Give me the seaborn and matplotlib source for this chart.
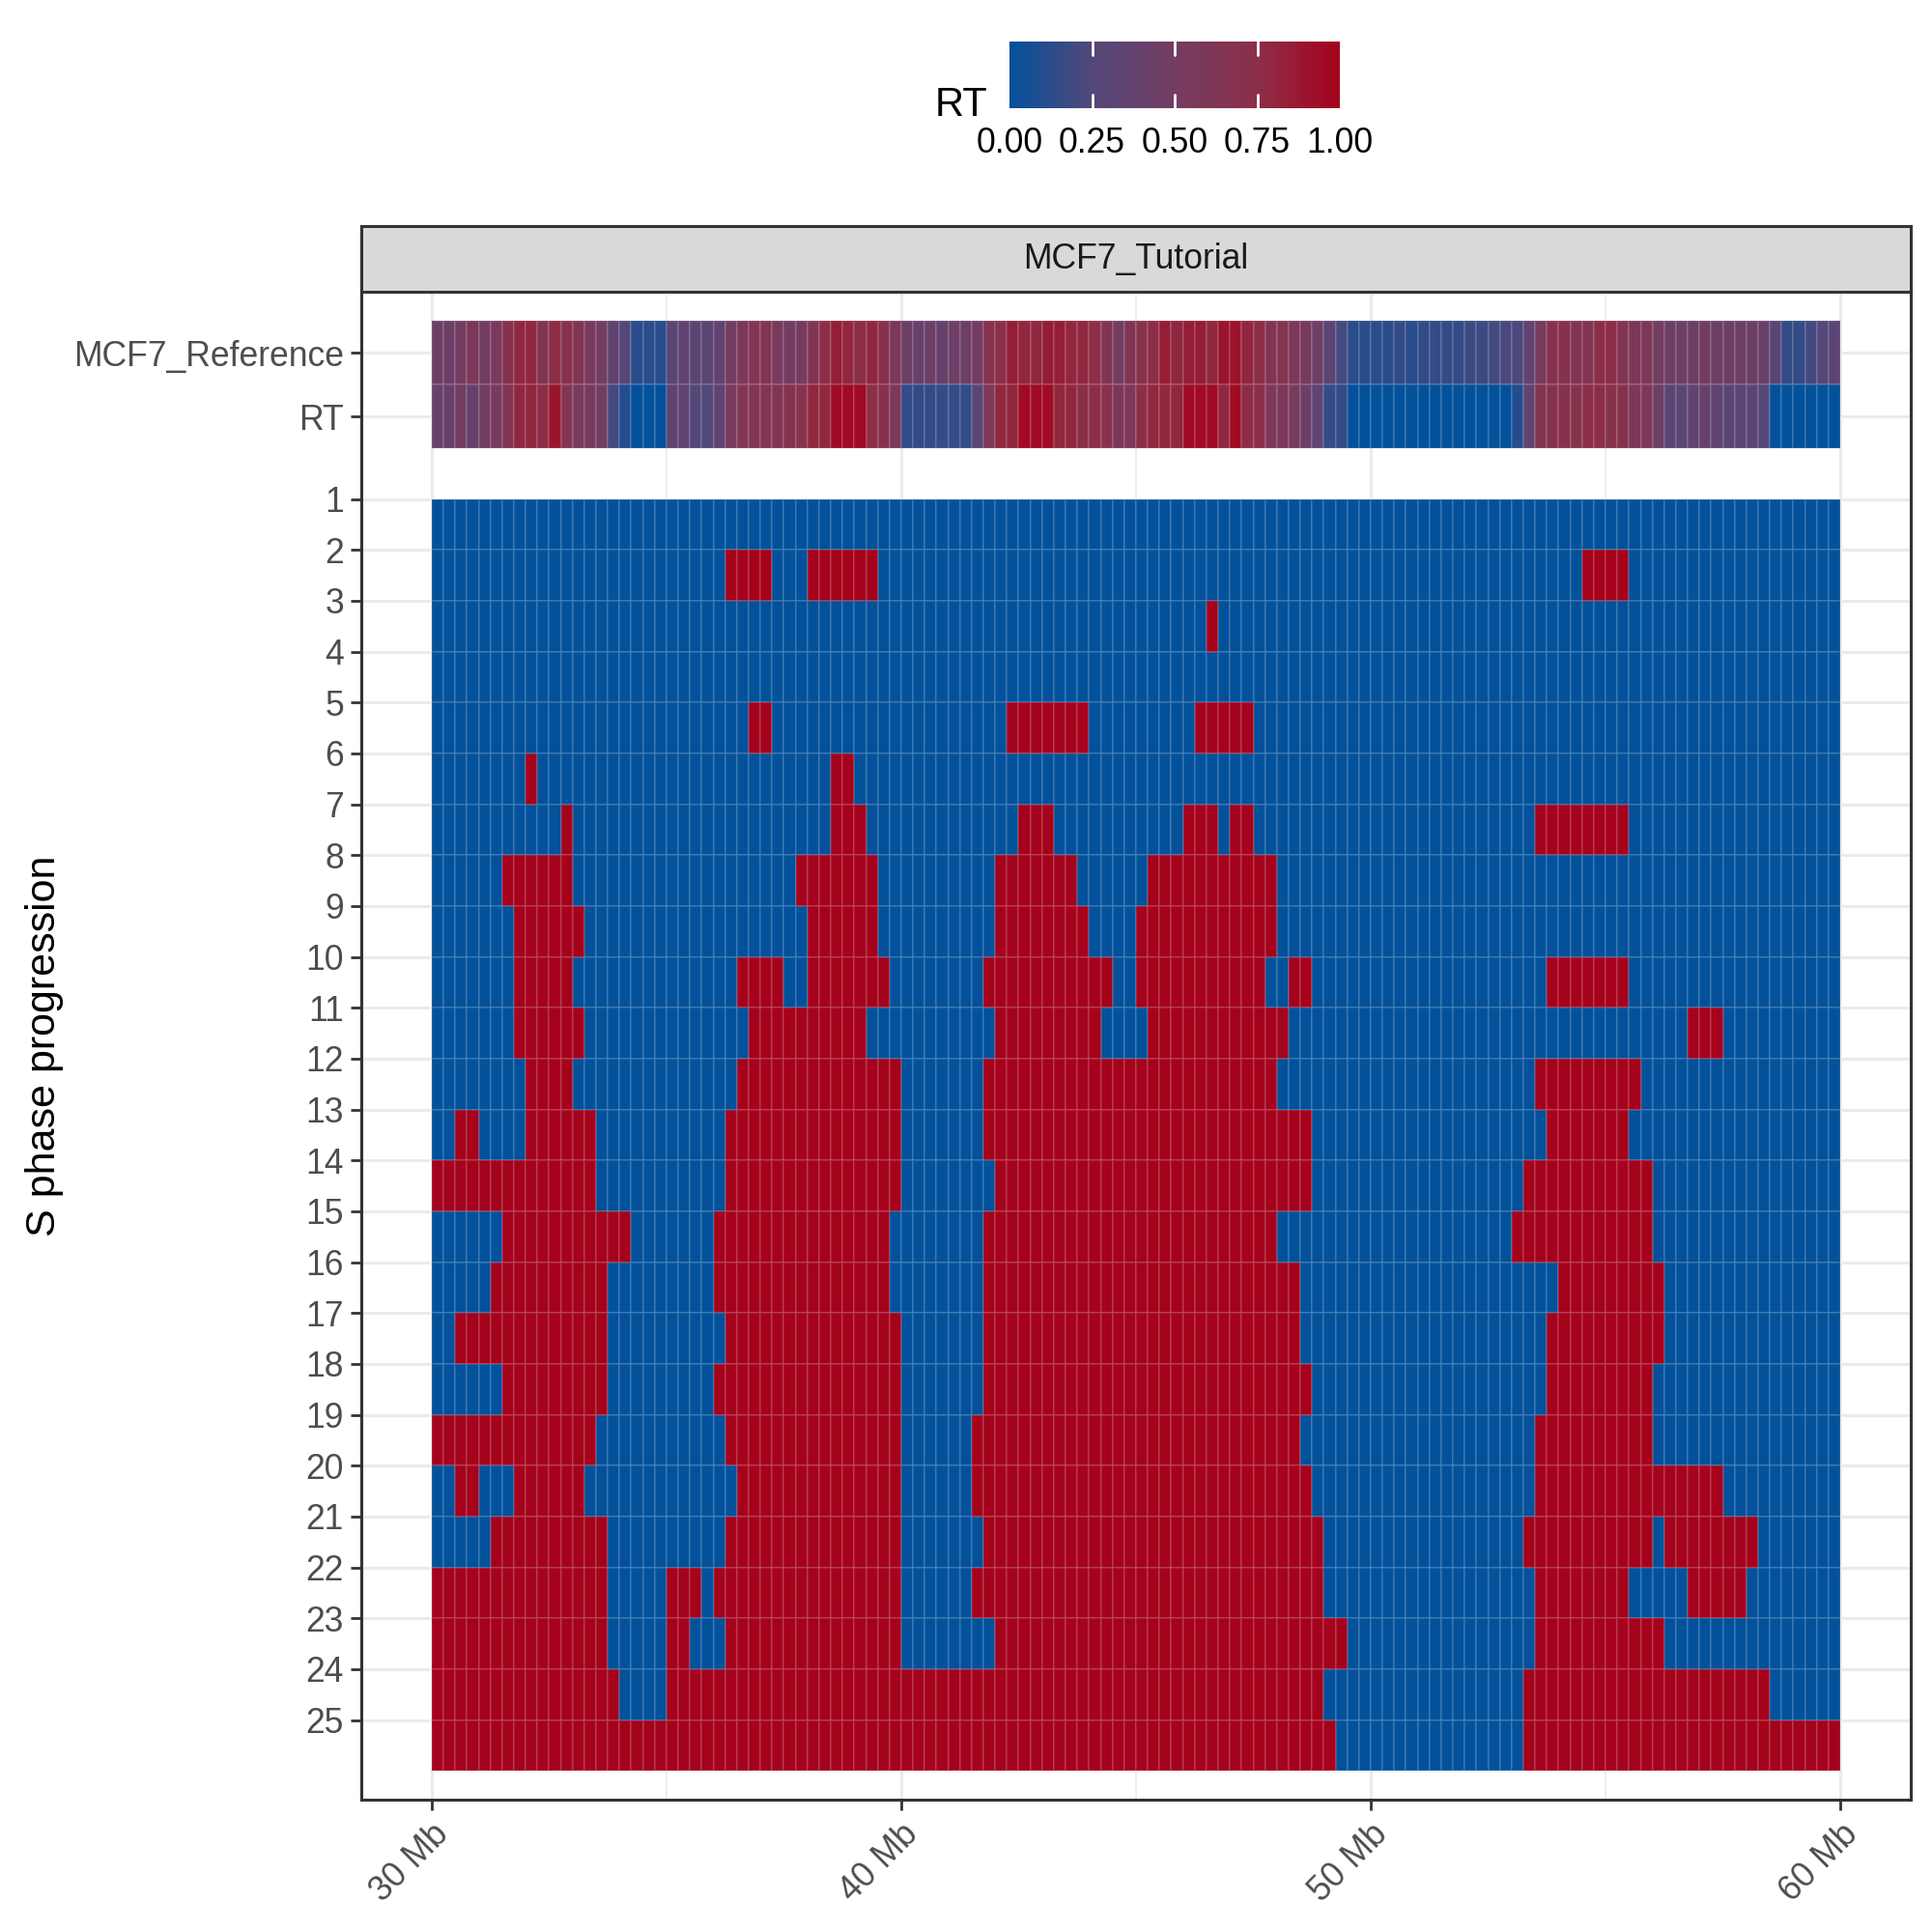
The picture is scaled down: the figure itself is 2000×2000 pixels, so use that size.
import numpy as np
import matplotlib
matplotlib.use("Agg")
import matplotlib.pyplot as plt
import matplotlib.ticker as mticker
import seaborn as sns

# ─────────────────────────────────────────────
# Data
# 120 bins of 0.25 Mb between 30 and 60 Mb
# ─────────────────────────────────────────────
REGION_MB = (30, 60)

X_TICKS = [30, 40, 50, 60]
X_TICKLABELS = ["30 Mb", "40 Mb", "50 Mb", "60 Mb"]
X_MINOR = [35, 45, 55]
TRACK_LABELS = ["MCF7_Reference", "RT"]
FRACTION_LABELS = [str(i) for i in range(1, 26)]
RT_TICKS = [0.0, 0.25, 0.50, 0.75, 1.0]
RT_TICKLABELS = ["0.00", "0.25", "0.50", "0.75", "1.00"]

REFERENCE_RT = [
    0.45, 0.45, 0.50, 0.60, 0.50, 0.55, 0.70, 0.80, 0.80, 0.65,
    0.75, 0.70, 0.65, 0.55, 0.50, 0.35, 0.25, 0.12, 0.12, 0.12,
    0.30, 0.35, 0.30, 0.30, 0.35, 0.50, 0.60, 0.65, 0.65, 0.55,
    0.50, 0.55, 0.65, 0.75, 0.85, 0.80, 0.75, 0.80, 0.70, 0.60,
    0.45, 0.40, 0.45, 0.40, 0.45, 0.45, 0.50, 0.70, 0.75, 0.85,
    0.80, 0.80, 0.85, 0.85, 0.80, 0.80, 0.75, 0.65, 0.50, 0.65,
    0.70, 0.75, 0.85, 0.80, 0.85, 0.85, 0.80, 0.90, 0.90, 0.80,
    0.75, 0.65, 0.65, 0.60, 0.55, 0.45, 0.30, 0.20, 0.12, 0.12,
    0.12, 0.12, 0.15, 0.12, 0.15, 0.15, 0.15, 0.15, 0.18, 0.18,
    0.20, 0.22, 0.22, 0.35, 0.55, 0.70, 0.70, 0.65, 0.65, 0.75,
    0.75, 0.65, 0.60, 0.60, 0.50, 0.45, 0.45, 0.45, 0.50, 0.45,
    0.45, 0.45, 0.45, 0.40, 0.30, 0.15, 0.15, 0.20, 0.25, 0.30,
]

SAMPLE_RT = [
    0.40, 0.40, 0.50, 0.40, 0.50, 0.55, 0.65, 0.80, 0.80, 0.75,
    0.90, 0.65, 0.55, 0.55, 0.50, 0.20, 0.10, 0.00, 0.00, 0.00,
    0.35, 0.35, 0.25, 0.25, 0.35, 0.55, 0.65, 0.65, 0.65, 0.65,
    0.70, 0.70, 0.80, 0.80, 0.95, 0.95, 0.95, 0.75, 0.70, 0.60,
    0.15, 0.15, 0.15, 0.15, 0.15, 0.15, 0.28, 0.60, 0.80, 0.80,
    0.95, 0.95, 0.95, 0.80, 0.80, 0.75, 0.75, 0.70, 0.60, 0.60,
    0.75, 0.80, 0.80, 0.80, 0.95, 0.95, 0.95, 0.80, 0.95, 0.75,
    0.75, 0.60, 0.60, 0.55, 0.45, 0.35, 0.15, 0.15, 0.00, 0.00,
    0.00, 0.00, 0.00, 0.00, 0.00, 0.00, 0.00, 0.00, 0.00, 0.00,
    0.00, 0.00, 0.10, 0.35, 0.65, 0.70, 0.70, 0.70, 0.75, 0.75,
    0.70, 0.70, 0.60, 0.60, 0.45, 0.30, 0.30, 0.35, 0.40, 0.35,
    0.30, 0.30, 0.30, 0.25, 0.00, 0.00, 0.00, 0.00, 0.00, 0.00,
]

# replicated (red) stretches for each S phase fraction, in Mb
REPLICATED = [
    [],                                                                            # 1
    [(36.25, 37.25), (38.0, 39.5), (54.5, 55.5)],                                  # 2
    [(46.5, 46.75)],                                                               # 3
    [],                                                                            # 4
    [(36.75, 37.25), (42.25, 44.0), (46.25, 47.5)],                                # 5
    [(32.0, 32.25), (38.5, 39.0)],                                                 # 6
    [(32.75, 33.0), (38.5, 39.25), (42.5, 43.25), (46.0, 46.75), (47.0, 47.5),
     (53.5, 55.5)],                                                                # 7
    [(31.5, 33.0), (37.75, 39.5), (42.0, 43.75), (45.25, 48.0)],                   # 8
    [(31.75, 33.25), (38.0, 39.5), (42.0, 44.0), (45.0, 48.0)],                    # 9
    [(31.75, 33.0), (36.5, 37.5), (38.0, 39.75), (41.75, 44.5), (45.0, 47.75),
     (48.25, 48.75), (53.75, 55.5)],                                               # 10
    [(31.75, 33.25), (36.75, 39.25), (42.0, 44.25), (45.25, 48.25), (56.75, 57.5)],  # 11
    [(32.0, 33.0), (36.5, 40.0), (41.75, 48.0), (53.5, 55.75)],                    # 12
    [(30.5, 31.0), (32.0, 33.5), (36.25, 40.0), (41.75, 48.75), (53.75, 55.5)],    # 13
    [(30.0, 33.5), (36.25, 40.0), (42.0, 48.75), (53.25, 56.0)],                   # 14
    [(31.5, 34.25), (36.0, 39.75), (41.75, 48.0), (53.0, 56.0)],                   # 15
    [(31.25, 33.75), (36.0, 39.75), (41.75, 48.5), (54.0, 56.25)],                 # 16
    [(30.5, 33.75), (36.25, 40.0), (41.75, 48.5), (53.75, 56.25)],                 # 17
    [(31.5, 33.75), (36.0, 40.0), (41.75, 48.75), (53.75, 56.0)],                  # 18
    [(30.0, 33.5), (36.25, 40.0), (41.5, 48.5), (53.5, 56.0)],                     # 19
    [(30.5, 31.0), (31.75, 33.25), (36.5, 40.0), (41.5, 48.75), (53.5, 57.5)],     # 20
    [(31.25, 33.75), (36.25, 40.0), (41.75, 49.0), (53.25, 56.0), (56.25, 58.25)],  # 21
    [(30.0, 33.75), (35.0, 35.75), (36.0, 40.0), (41.5, 49.0), (53.5, 55.5),
     (56.75, 58.0)],                                                               # 22
    [(30.0, 33.75), (35.0, 35.5), (36.25, 40.0), (42.0, 49.5), (53.5, 56.25)],     # 23
    [(30.0, 34.0), (35.0, 49.0), (53.25, 58.5)],                                   # 24
    [(30.0, 49.25), (53.25, 60.0)],                                                # 25
]

# ─────────────────────────────────────────────
# Build matrices
# ─────────────────────────────────────────────
n_bins = len(SAMPLE_RT)
bin_mb = (REGION_MB[1] - REGION_MB[0]) / n_bins

states = np.zeros((len(REPLICATED), n_bins))
for r, segs in enumerate(REPLICATED):
    for s, e in segs:
        i0 = int(round((s - REGION_MB[0]) / bin_mb))
        i1 = int(round((e - REGION_MB[0]) / bin_mb))
        states[r, i0:i1] = 1

tracks = np.array([REFERENCE_RT, SAMPLE_RT])

# ─────────────────────────────────────────────
# Style
# ─────────────────────────────────────────────
sns.set_theme(style="white")
plt.rcParams["font.family"] = ["Liberation Sans", "DejaVu Sans"]

BLUE, RED = "#03519B", "#A5021C"
rt_cmap = sns.blend_palette([BLUE, "#544779", "#733D62", "#8C2F48", RED], n_colors=256, as_cmap=True)
edge = (1, 1, 1, 0.12)
dark = "#333333"
text_grey = "#4D4D4D"
grid_col = "#EBEBEB"

fig = plt.figure(figsize=(10, 10), dpi=200)

# main panel (only frame, grid and axes)
ax = fig.add_axes([0.187, 0.06835, 0.802, 0.7805])
ax.set_xlim(28.5, 61.5)
ax.set_ylim(26.57, -3.07)

y_ticks = [-1.875, -0.625] + list(range(1, 26))
ax.set_yticks(y_ticks)
ax.set_yticklabels(TRACK_LABELS + FRACTION_LABELS)
ax.set_xticks(X_TICKS)
ax.set_xticklabels(X_TICKLABELS, rotation=45, ha="right", va="top", rotation_mode="anchor")
ax.xaxis.set_minor_locator(mticker.FixedLocator(X_MINOR))
ax.grid(which="major", color=grid_col, linewidth=1.1)
ax.grid(which="minor", axis="x", color=grid_col, linewidth=0.6)
ax.set_axisbelow(True)
ax.tick_params(which="major", length=4.0, width=1.0, color=dark, labelcolor=text_grey,
               labelsize=12.8, pad=2.5, left=True, bottom=True)
ax.tick_params(which="minor", length=0)
for sp in ax.spines.values():
    sp.set_color(dark)
    sp.set_linewidth(1.1)
ax.set_ylabel("S phase progression", fontsize=15.5, color="black")
ax.yaxis.set_label_coords(-0.192, 0.5)


def frac_bounds(x0, x1, y_top, y_bot):
    xmin, xmax = ax.get_xlim()
    ylo, yhi = ax.get_ylim()  # (bottom, top) with the axis inverted
    return [(x0 - xmin) / (xmax - xmin),
            (ylo - y_bot) / (ylo - yhi),
            (x1 - x0) / (xmax - xmin),
            (y_bot - y_top) / (ylo - yhi)]


# RT tracks on top
ax_top = ax.inset_axes(frac_bounds(REGION_MB[0], REGION_MB[1], -2.5, 0.0))
sns.heatmap(tracks, ax=ax_top, cmap=rt_cmap, vmin=0, vmax=1, cbar=False,
            linewidths=0.6, linecolor=edge, xticklabels=False, yticklabels=False)
ax_top.axis("off")

# per-fraction replication states
ax_heat = ax.inset_axes(frac_bounds(REGION_MB[0], REGION_MB[1], 1.0, 26.0))
sns.heatmap(states, ax=ax_heat, cmap=rt_cmap, vmin=0, vmax=1, cbar=False,
            linewidths=0.6, linecolor=edge, xticklabels=False, yticklabels=False)
ax_heat.axis("off")

# facet strip
strip = fig.add_axes([0.187, 0.84885, 0.802, 0.034])
strip.set_facecolor("#D9D9D9")
strip.set_xticks([])
strip.set_yticks([])
for sp in strip.spines.values():
    sp.set_visible(True)
    sp.set_color(dark)
    sp.set_linewidth(1.1)
strip.text(0.5, 0.5, "MCF7_Tutorial", ha="center", va="center", fontsize=12.8, color="#1A1A1A",
           transform=strip.transAxes)

# colour legend
cax = fig.add_axes([0.5225, 0.944, 0.171, 0.0345])
sm = plt.cm.ScalarMappable(norm=plt.Normalize(0, 1), cmap=rt_cmap)
cb = fig.colorbar(sm, cax=cax, orientation="horizontal")
cb.outline.set_visible(False)
cb.set_ticks(RT_TICKS)
cb.set_ticklabels(RT_TICKLABELS)
cax.tick_params(length=0, labelsize=12.8, labelcolor="black", pad=7)
for v in RT_TICKS[1:-1]:
    cax.axvline(v, ymin=0, ymax=0.2, color="white", linewidth=1.0)
    cax.axvline(v, ymin=0.8, ymax=1, color="white", linewidth=1.0)
fig.text(0.511, 0.94, "RT", ha="right", va="baseline", fontsize=15, color="black")

fig.savefig("out.png", dpi=200)
plt.close(fig)
